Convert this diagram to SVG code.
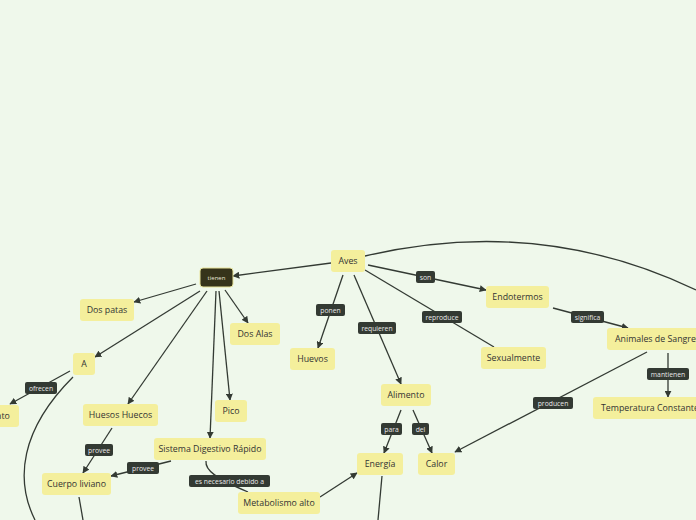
<svg xmlns="http://www.w3.org/2000/svg" width="696" height="520" viewBox="0 0 696 520">
<defs>
<marker id="ar" viewBox="0 0 10 10" refX="9" refY="5" markerWidth="7" markerHeight="7" orient="auto" markerUnits="userSpaceOnUse"><path d="M0,0 L10,5 L0,10 z" fill="#333a33"/></marker>
<style>
.n rect{fill:#f4ef9c;stroke:none}
.n text{font-family:"Open Sans","DejaVu Sans",sans-serif;font-size:8.8px;fill:#333;text-anchor:middle}
.l rect{fill:#333a33}
.l text{font-family:"Open Sans","DejaVu Sans",sans-serif;font-size:6.8px;fill:#e8e8e8;text-anchor:middle}
#c path{fill:none;stroke:#333a33;stroke-width:1.3}
</style>
</defs>
<rect width="696" height="520" fill="#eff8eb"/>
<g id="c">
<path d="M331,263 L233,276" marker-end="url(#ar)"/>
<path d="M196,284 L134,302" marker-end="url(#ar)"/>
<path d="M225,290 L248,323" marker-end="url(#ar)"/>
<path d="M200,291 L95,357" marker-end="url(#ar)"/>
<path d="M207,291 L128,404" marker-end="url(#ar)"/>
<path d="M219,291 L230,400" marker-end="url(#ar)"/>
<path d="M216,291 L210,438" marker-end="url(#ar)"/>
<path d="M70,371 L10,404" marker-end="url(#ar)"/>
<path d="M73,377 C20,430 15,480 35,520"/>
<path d="M112,428 L83,473" marker-end="url(#ar)"/>
<path d="M171,461 L111,476" marker-end="url(#ar)"/>
<path d="M206,461 C205,470 215,478 248,492"/>
<path d="M320,497 L357,473" marker-end="url(#ar)"/>
<path d="M79,497 L83,520"/>
<path d="M343,275 L318,348" marker-end="url(#ar)"/>
<path d="M354,275 L401,384" marker-end="url(#ar)"/>
<path d="M365,270 L494,347"/>
<path d="M368,265 L486,290" marker-end="url(#ar)"/>
<path d="M553,308 L628,328" marker-end="url(#ar)"/>
<path d="M668,353 L668,397" marker-end="url(#ar)"/>
<path d="M647,352 L455,452" marker-end="url(#ar)"/>
<path d="M401,410 L384,453" marker-end="url(#ar)"/>
<path d="M413,410 L432,453" marker-end="url(#ar)"/>
<path d="M382,476 L378,520"/>
<path d="M365,256 Q540,215 696,290"/>
</g>
<g id="aves" class="n"><rect x="331" y="250" width="34" height="22" rx="3"/><text x="348" y="264">Aves</text></g>
<g id="tienen"><rect x="200" y="268" width="33" height="19" rx="3" fill="#35331a" stroke="#e8e49a" stroke-width="1"/><text x="216.5" y="280" font-family="Open Sans, DejaVu Sans, sans-serif" font-size="6" fill="#e8e8d8" text-anchor="middle">tienen</text></g>
<g id="dospatas" class="n"><rect x="80" y="299" width="54" height="22" rx="3"/><text x="107" y="313">Dos patas</text></g>
<g id="dosalas" class="n"><rect x="230" y="323" width="50" height="22" rx="3"/><text x="255" y="337">Dos Alas</text></g>
<g id="a" class="n"><rect x="73" y="353" width="22" height="22" rx="3"/><text x="84" y="367">A</text></g>
<g id="nto" class="n"><rect x="-30" y="405" width="49" height="22" rx="3"/><text x="3" y="419">nto</text></g>
<g id="huesos" class="n"><rect x="83" y="404" width="75" height="22" rx="3"/><text x="120.5" y="418">Huesos Huecos</text></g>
<g id="pico" class="n"><rect x="215" y="400" width="32" height="22" rx="3"/><text x="231" y="414">Pico</text></g>
<g id="sistema" class="n"><rect x="154" y="438" width="112" height="22" rx="3"/><text x="210" y="452">Sistema Digestivo Rápido</text></g>
<g id="cuerpo" class="n"><rect x="42" y="473" width="69" height="22" rx="3"/><text x="76.5" y="487">Cuerpo liviano</text></g>
<g id="metab" class="n"><rect x="238" y="492" width="82" height="22" rx="3"/><text x="279" y="506">Metabolismo alto</text></g>
<g id="huevos" class="n"><rect x="290" y="348" width="45" height="22" rx="3"/><text x="312.5" y="362">Huevos</text></g>
<g id="alimento" class="n"><rect x="381" y="384" width="50" height="22" rx="3"/><text x="406" y="398">Alimento</text></g>
<g id="energia" class="n"><rect x="357" y="453" width="46" height="22" rx="3"/><text x="380" y="467">Energía</text></g>
<g id="calor" class="n"><rect x="418" y="453" width="37" height="22" rx="3"/><text x="436.5" y="467">Calor</text></g>
<g id="endo" class="n"><rect x="486" y="286" width="63" height="22" rx="3"/><text x="517.5" y="300">Endotermos</text></g>
<g id="sexual" class="n"><rect x="481" y="347" width="65" height="22" rx="3"/><text x="513.5" y="361">Sexualmente</text></g>
<g id="animales" class="n"><rect x="607" y="328" width="120" height="22" rx="3"/><text x="615" y="342" style="text-anchor:start">Animales de Sangre Caliente</text></g>
<g id="temp" class="n"><rect x="593" y="397" width="150" height="22" rx="3"/><text x="601" y="411" style="text-anchor:start">Temperatura Constante del cuerpo</text></g>
<g id="labels">
<g class="l"><rect x="316" y="304" width="29" height="12" rx="2"/><text x="330.5" y="312.5">ponen</text></g>
<g class="l"><rect x="358" y="322" width="38" height="12" rx="2"/><text x="377" y="330.5">requieren</text></g>
<g class="l"><rect x="416" y="271" width="19" height="12" rx="2"/><text x="425.5" y="279.5">son</text></g>
<g class="l"><rect x="422" y="311" width="40" height="12" rx="2"/><text x="442" y="319.5">reproduce</text></g>
<g class="l"><rect x="571" y="311" width="33" height="12" rx="2"/><text x="587.5" y="319.5">significa</text></g>
<g class="l"><rect x="647" y="368" width="42" height="12" rx="2"/><text x="668" y="376.5">mantienen</text></g>
<g class="l"><rect x="533" y="397" width="40" height="12" rx="2"/><text x="553" y="405.5">producen</text></g>
<g class="l"><rect x="381" y="423" width="21" height="12" rx="2"/><text x="391.5" y="431.5">para</text></g>
<g class="l"><rect x="412" y="423" width="17" height="12" rx="2"/><text x="420.5" y="431.5">del</text></g>
<g class="l"><rect x="25" y="382" width="32" height="12" rx="2"/><text x="41" y="390.5">ofrecen</text></g>
<g class="l"><rect x="85" y="444" width="28" height="12" rx="2"/><text x="99" y="452.5">provee</text></g>
<g class="l"><rect x="127" y="462" width="32" height="12" rx="2"/><text x="143" y="470.5">provee</text></g>
<g class="l"><rect x="189" y="475" width="81" height="12" rx="2"/><text x="229.5" y="483.5">es necesario debido a</text></g>
</g>
</svg>
